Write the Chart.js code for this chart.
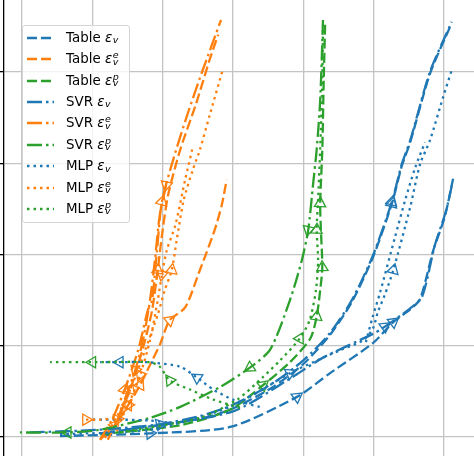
<!DOCTYPE html>
<html>
<head>
<meta charset="utf-8">
<script src="https://cdn.jsdelivr.net/npm/chart.js@4.4.0/dist/chart.umd.min.js"></script>
<style>
  html, body { margin: 0; padding: 0; background: #fff; }
  #wrap { position: relative; width: 474px; height: 456px; overflow: hidden; }
  #legend {
    position: absolute; left: 22px; top: 25px; width: 106px; height: 196px;
    background: rgba(255,255,255,0.8); border: 1px solid #d4d4d4; border-radius: 3px;
    font-family: 'DejaVu Sans', sans-serif; font-size: 13.4px; color: #000;
  }
  .row { position: absolute; left: 0; width: 100%; height: 20px; }
  .row svg { position: absolute; left: 4px; top: 7px; }
  .lab { position: absolute; left: 43px; top: 0; line-height: 20px; white-space: nowrap; }
  .lab i { font-style: italic; }
  .ss { display: inline-block; position: relative; width: 6px; height: 0; }
  .ss span { position: absolute; left: 0.5px; font-style: italic; font-size: 9.5px; line-height: 1; }
  .ss .sp { top: -13px; }
  .ss .sb { top: -6.5px; }
</style>
</head>
<body>
<div id="wrap">
  <canvas id="c" width="474" height="456"></canvas>
  <div id="legend"></div>
</div>
<script>
// grid positions (the axis labels are cropped off in the source figure)
const xTicks = [0, 1, 2, 3, 4, 5, 6];
const yTicks = [0, 1, 2, 3, 4];

// blue: total volumetric strain, null = new branch
const tableEvX = [0.54, 1.82, 2.96, 3.91, 4.38, 4.99, 5.28, 5.52, 5.66, 5.85, 6.01, 6.13, null, 1.40, 2.53, 2.96, 3.53, 4.00, 4.38, 4.69, 4.99, 5.26, 5.40, 5.52, 5.80, 6.09];
const tableEvY = [0.01, 0.04, 0.11, 0.44, 0.70, 1.03, 1.26, 1.40, 1.51, 2.05, 2.41, 2.83, null, 0.07, 0.20, 0.30, 0.53, 0.80, 1.12, 1.48, 1.97, 2.56, 2.97, 3.23, 3.98, 4.50];
const svrEvX = [0.11, 1.11, 1.96, 2.53, 2.96, 3.53, 4.00, 4.38, 4.69, 4.99, 5.26, 5.40, 5.52, 5.80, 6.11, null, 1.11, 2.96, 3.77, 4.28, 4.99, 5.16, 5.52, 5.69, 5.87, 6.03, 6.11];
const svrEvY = [0.05, 0.08, 0.14, 0.23, 0.34, 0.57, 0.84, 1.14, 1.50, 1.99, 2.58, 2.99, 3.25, 4.00, 4.55, null, 0.04, 0.27, 0.62, 0.87, 1.13, 1.21, 1.41, 1.54, 2.10, 2.48, 2.75];
const mlpEvX = [0.54, 1.82, 2.96, 3.81, 4.14, 4.52, 4.85, 4.99, 5.06, 5.16, 5.28, 5.52, 5.66, 5.80, 5.99, 6.11, null, 4.89, 4.98, 5.09, 5.30, 5.45, 5.59, 5.73, null, 3.38, 3.00, 2.72, 2.49, 2.25, 1.78, 1.39, 1.11, null, 1.01, 1.44, 1.82, 2.18];
const mlpEvY = [0.03, 0.08, 0.33, 0.70, 0.82, 0.95, 1.06, 1.19, 1.37, 1.56, 1.83, 2.52, 2.99, 3.25, 3.73, 4.02, null, 1.04, 1.30, 1.58, 2.18, 2.60, 2.95, 3.23, null, 0.33, 0.41, 0.52, 0.65, 0.77, 0.82, 0.82, 0.82, null, 0.19, 0.19, 0.18, 0.15];

// orange: elastic part
const tableEeX = [1.11, 1.32, 1.51, 1.68, 1.82, 1.96, 2.10, 2.32, 2.53, 2.74, 2.84, 2.91, null, 1.22, 1.39, 1.56, 1.75, 1.85, 1.93, 2.00, 2.08, 2.25, 2.47, 2.67, 2.79];
const tableEeY = [-0.03, 0.13, 0.35, 0.57, 0.79, 1.01, 1.28, 1.42, 1.83, 2.27, 2.54, 2.82, null, -0.03, 0.24, 0.57, 1.06, 1.39, 1.83, 2.27, 2.66, 3.15, 3.64, 4.14, 4.41];
const svrEeX = [1.11, 1.28, 1.46, 1.65, 1.79, 1.85, 1.92, 1.99, 2.15, 2.35, 2.56, 2.83, null, 2.05, 1.96, 1.89, 1.82, 1.72, 1.61, 1.46, 1.36];
const svrEeY = [-0.03, 0.19, 0.52, 0.95, 1.39, 1.50, 2.05, 2.58, 3.04, 3.53, 4.00, 4.57, null, 2.76, 2.44, 1.94, 1.50, 1.06, 0.73, 0.41, 0.19];
const mlpEeX = [1.18, 1.36, 1.54, 1.75, 1.93, 2.03, 2.13, 2.20, 2.30, 2.43, 2.53, 2.67, 2.86, null, 2.42, 2.32, 2.18, 2.06, 1.99, 1.93, 1.82, 1.68, 1.51, 1.36, null, 0.91, 1.11, 1.36];
const mlpEeY = [-0.01, 0.24, 0.52, 0.95, 1.34, 1.61, 1.83, 2.16, 2.60, 2.93, 3.15, 3.53, 4.04, null, 3.15, 2.82, 2.32, 2.05, 1.78, 1.50, 1.06, 0.68, 0.35, 0.13, null, 0.19, 0.19, 0.21];

// green: plastic part
const tableEpX = [1.11, 2.25, 2.96, 3.43, 3.81, 4.10, 4.19, 4.24, 4.27, 4.25, 4.24, 4.27, 4.29, 4.31];
const tableEpY = [0.03, 0.13, 0.30, 0.57, 0.82, 1.08, 1.32, 1.61, 1.86, 2.27, 2.56, 3.15, 3.91, 4.52];
const svrEpX = [4.28, 4.24, 4.19, 4.14, 4.07, 3.98, 3.81, 3.53, 3.24, 2.82, 2.25, 1.82, 1.11, 0.65, -0.03];
const svrEpY = [4.57, 3.69, 3.15, 2.78, 2.27, 1.94, 1.50, 0.96, 0.76, 0.55, 0.33, 0.21, 0.08, 0.05, 0.05];
const mlpEpX = [1.39, 2.53, 3.06, 3.43, 3.67, 3.95, 4.09, 4.18, 4.21, 4.19, 4.21, 4.24, 4.27, 4.28, null, 3.10, 2.72, 2.39, 2.10, 1.96, 1.82, 1.00, 0.40];
const mlpEpY = [0.05, 0.21, 0.41, 0.66, 0.84, 1.08, 1.28, 1.61, 1.94, 2.27, 2.60, 3.15, 3.91, 4.51, null, 0.32, 0.41, 0.52, 0.62, 0.77, 0.82, 0.82, 0.82];

// which points carry a direction triangle
const tableEvMarks = [1, 3, 6, 21];
const svrEvMarks = [2, 10, 21];
const mlpEvMarks = [3, 10, 28, 31];
const tableEeMarks = [1, 2, 3, 6, 18];
const svrEeMarks = [2, 7, 13, 18, 20];
const mlpEeMarks = [2, 6, 18, 21, 22, 25];
const tableEpMarks = [3, 6, 8, 10];
const svrEpMarks = [4, 8, 13];
const mlpEpMarks = [5, 9, 18, 21];

const BLUE = '#1f77b4', ORANGE = '#ff7f0e', GREEN = '#2ca02c';
const DASHED = [10, 4], DASHDOT = [15, 4, 2.5, 4], DOTTED = [2.5, 4];

const series = [
  { method: 'Table', sup: '', color: BLUE, dash: DASHED, xs: tableEvX, ys: tableEvY, marks: tableEvMarks },
  { method: 'Table', sup: 'e', color: ORANGE, dash: DASHED, xs: tableEeX, ys: tableEeY, marks: tableEeMarks },
  { method: 'Table', sup: 'p', color: GREEN, dash: DASHED, xs: tableEpX, ys: tableEpY, marks: tableEpMarks },
  { method: 'SVR', sup: '', color: BLUE, dash: DASHDOT, xs: svrEvX, ys: svrEvY, marks: svrEvMarks },
  { method: 'SVR', sup: 'e', color: ORANGE, dash: DASHDOT, xs: svrEeX, ys: svrEeY, marks: svrEeMarks },
  { method: 'SVR', sup: 'p', color: GREEN, dash: DASHDOT, xs: svrEpX, ys: svrEpY, marks: svrEpMarks },
  { method: 'MLP', sup: '', color: BLUE, dash: DOTTED, xs: mlpEvX, ys: mlpEvY, marks: mlpEvMarks },
  { method: 'MLP', sup: 'e', color: ORANGE, dash: DOTTED, xs: mlpEeX, ys: mlpEeY, marks: mlpEeMarks },
  { method: 'MLP', sup: 'p', color: GREEN, dash: DOTTED, xs: mlpEpX, ys: mlpEpY, marks: mlpEpMarks }
];

function toPoints(xs, ys) {
  let lastX = 0;
  return xs.map((x, i) => {
    if (x === null || ys[i] === null) return { x: lastX, y: null };
    lastX = x;
    return { x: x, y: ys[i] };
  });
}

// point the triangle along the path
function pathAngle(ctx) {
  const pts = ctx.dataset.data;
  const i = ctx.dataIndex;
  let a = pts[i], b = pts[i + 1];
  if (!b || b.y === null) { b = a; a = pts[i - 1]; }
  if (!a || a.y === null) return 0;
  const sx = ctx.chart.scales.x, sy = ctx.chart.scales.y;
  const dx = sx.getPixelForValue(b.x) - sx.getPixelForValue(a.x);
  const dy = sy.getPixelForValue(b.y) - sy.getPixelForValue(a.y);
  return Math.atan2(dx, -dy) * 180 / Math.PI;
}

const datasets = series.map((s, k) => ({
  label: s.method + ' ' + s.sup,
  data: toPoints(s.xs, s.ys),
  showLine: true,
  spanGaps: false,
  borderColor: s.color,
  borderWidth: 2.3,
  borderDash: s.dash,
  fill: false,
  tension: 0.25,
  order: series.length - k,
  pointStyle: 'triangle',
  pointRadius: ctx => s.marks.includes(ctx.dataIndex) ? 6.5 : 0,
  pointRotation: pathAngle,
  pointBackgroundColor: 'rgba(255,255,255,0)',
  pointBorderColor: s.color,
  pointBorderWidth: 1.3
}));

new Chart(document.getElementById('c'), {
  type: 'scatter',
  data: { datasets: datasets },
  options: {
    responsive: false,
    devicePixelRatio: 1,
    animation: false,
    events: [],
    layout: { padding: 0, autoPadding: false },
    plugins: { legend: { display: false }, tooltip: { enabled: false } },
    scales: {
      x: {
        type: 'linear', min: -0.256, max: 6.427,
        afterBuildTicks: scale => { scale.ticks = xTicks.map(v => ({ value: v })); },
        grid: { color: '#c4c4c4', lineWidth: 1.3, drawTicks: false },
        border: { display: false },
        ticks: { display: false }
      },
      y: {
        type: 'linear', min: -0.208, max: 4.789,
        afterBuildTicks: scale => { scale.ticks = yTicks.map(v => ({ value: v })); },
        grid: { color: '#c4c4c4', lineWidth: 1.3, drawTicks: true, tickLength: 4, tickColor: '#000' },
        border: { display: true, color: '#000', width: 1.3 },
        ticks: { display: false }
      }
    }
  }
});

// legend with stacked sub/superscripts, like the matplotlib mathtext one
const legend = document.getElementById('legend');
series.forEach((s, k) => {
  const row = document.createElement('div');
  row.className = 'row';
  row.style.top = (1.7 + 21.4 * k) + 'px';
  const dash = s.dash.join(' ');
  const script = s.sup
    ? '<span class="ss"><span class="sp">' + s.sup + '</span><span class="sb">v</span></span>'
    : '<span class="ss"><span class="sb">v</span></span>';
  row.innerHTML =
    '<svg width="27" height="6"><line x1="0" y1="3" x2="27" y2="3" stroke="' + s.color +
    '" stroke-width="2.6" stroke-dasharray="' + dash + '"/></svg>' +
    '<span class="lab">' + s.method + ' <i>ε</i>' + script + '</span>';
  legend.appendChild(row);
});
</script>
</body>
</html>
